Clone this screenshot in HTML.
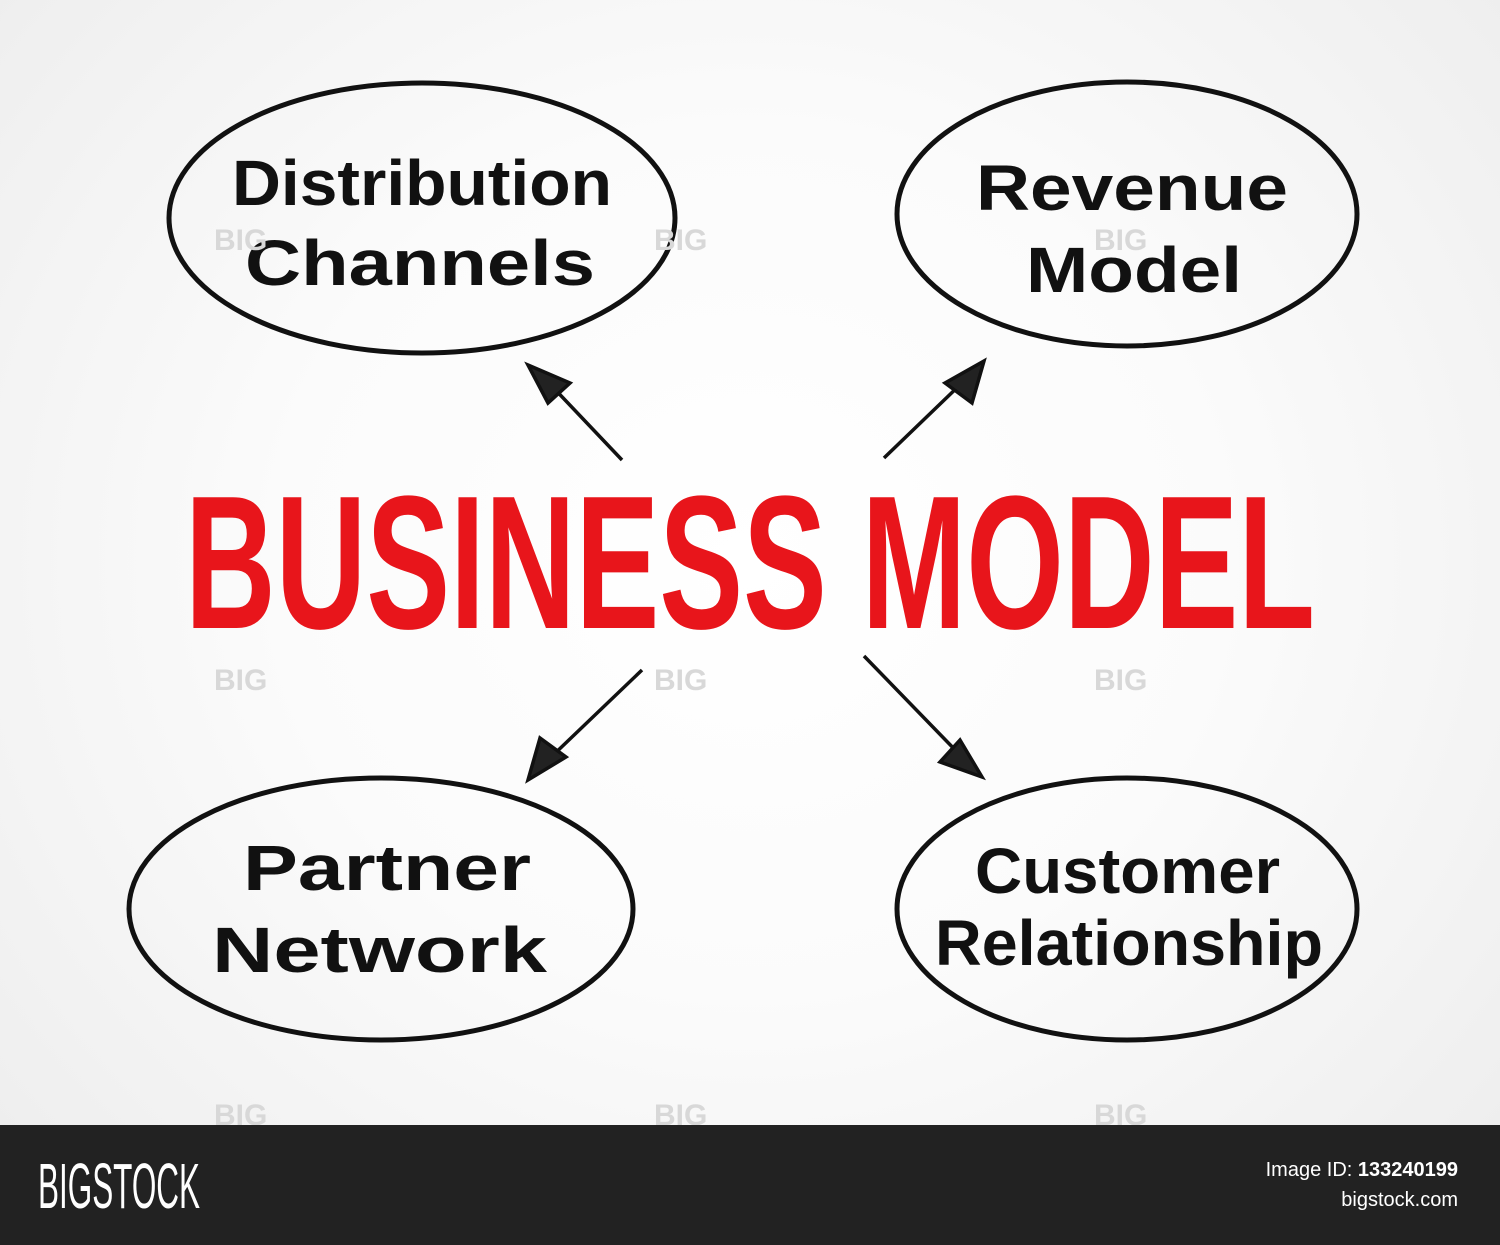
<!DOCTYPE html>
<html><head><meta charset="utf-8"><style>
html,body{margin:0;padding:0;width:1500px;height:1245px;overflow:hidden;}
body{background:radial-gradient(ellipse at 50% 45%, #ffffff 0%, #fbfbfb 45%, #ececec 100%);font-family:"Liberation Sans",sans-serif;}
svg{position:absolute;left:0;top:0;}
</style></head><body>
<svg width="1500" height="1245" viewBox="0 0 1500 1245">
<g fill="none" stroke="#111" stroke-width="5">
<ellipse cx="422" cy="218" rx="253" ry="135"/>
<ellipse cx="1127" cy="214" rx="230" ry="132"/>
<ellipse cx="381" cy="909" rx="252" ry="131"/>
<ellipse cx="1127" cy="909" rx="230" ry="131"/>
</g>
<g stroke="#111" stroke-width="3.5" fill="#222">
<line x1="622" y1="460" x2="548" y2="382"/>
<polygon points="528,365 570,383 548,403"/>
<line x1="884" y1="458" x2="965" y2="380"/>
<polygon points="984,361 972,403 945,383"/>
<line x1="642" y1="670" x2="548" y2="760"/>
<polygon points="528,780 540,738 566,757"/>
<line x1="864" y1="656" x2="962" y2="757"/>
<polygon points="982,777 940,762 960,740"/>
</g>
<g font-family="Liberation Sans, sans-serif" font-weight="bold" fill="#111" font-size="64">
<text x="232" y="205" textLength="380" lengthAdjust="spacingAndGlyphs">Distribution</text>
<text x="245" y="285" textLength="350" lengthAdjust="spacingAndGlyphs">Channels</text>
<text x="976" y="210" textLength="312" lengthAdjust="spacingAndGlyphs">Revenue</text>
<text x="1026" y="292" textLength="216" lengthAdjust="spacingAndGlyphs">Model</text>
<text x="243" y="890" textLength="288" lengthAdjust="spacingAndGlyphs">Partner</text>
<text x="212" y="972" textLength="335" lengthAdjust="spacingAndGlyphs">Network</text>
<text x="975" y="893" textLength="305" lengthAdjust="spacingAndGlyphs">Customer</text>
<text x="935" y="965" textLength="388" lengthAdjust="spacingAndGlyphs">Relationship</text>
</g>
<text x="185" y="628" font-family="Liberation Sans, sans-serif" font-weight="bold" font-size="190" fill="#e8151b" textLength="1130" lengthAdjust="spacingAndGlyphs">BUSINESS MODEL</text>
<g font-family="Liberation Sans, sans-serif" font-size="30" fill="#d8d8d8" font-weight="bold">
<text x="214" y="690">BIG</text><text x="654" y="690">BIG</text><text x="1094" y="690">BIG</text>
<text x="214" y="250">BIG</text><text x="654" y="250">BIG</text><text x="1094" y="250">BIG</text>
<text x="214" y="1125">BIG</text><text x="654" y="1125">BIG</text><text x="1094" y="1125">BIG</text>
</g>
<rect x="0" y="1125" width="1500" height="120" fill="#222"/>
<text x="38" y="1208" font-family="Liberation Sans, sans-serif" font-size="64" fill="#fff" textLength="162" lengthAdjust="spacingAndGlyphs">BIGSTOCK</text>
<text x="1458" y="1176" text-anchor="end" font-family="Liberation Sans, sans-serif" font-size="20" fill="#fff">Image ID: <tspan font-weight="bold">133240199</tspan></text>
<text x="1458" y="1206" text-anchor="end" font-family="Liberation Sans, sans-serif" font-size="20" fill="#fff">bigstock.com</text>
</svg>
</body></html>
